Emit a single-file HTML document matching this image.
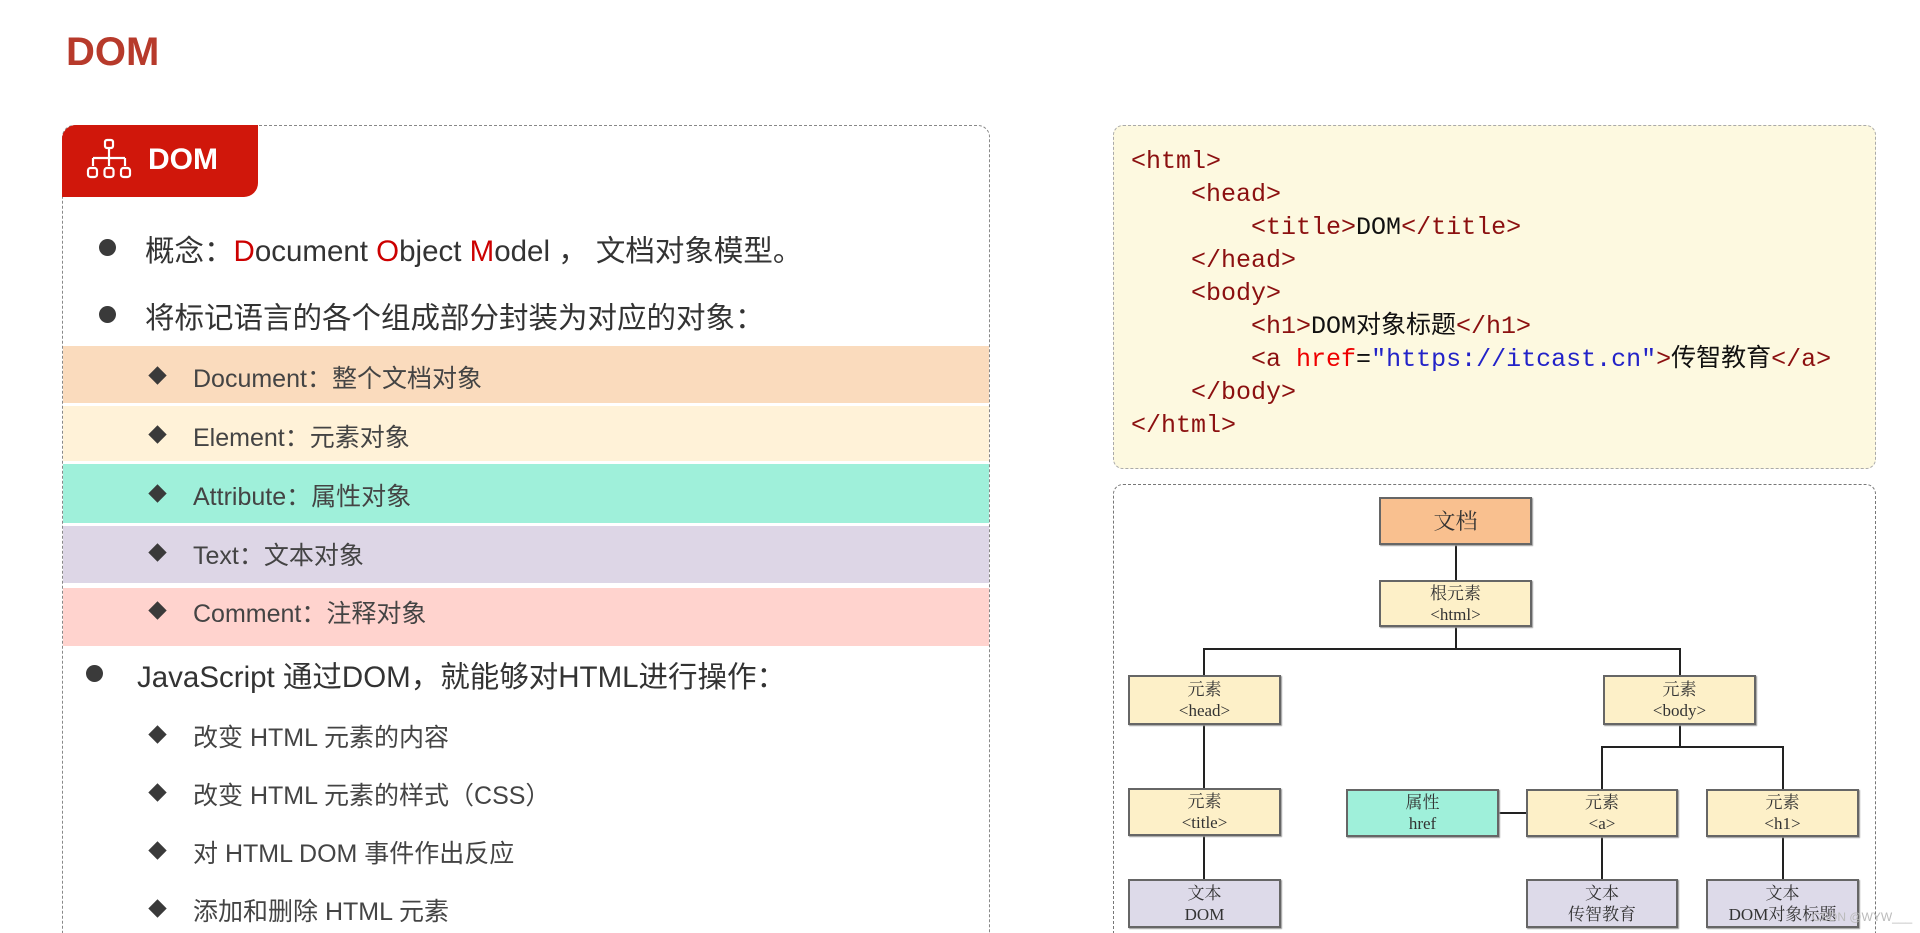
<!DOCTYPE html>
<html style="width:1920px;height:933px;overflow:hidden"><head><meta charset="utf-8"><style>
*{margin:0;padding:0;box-sizing:border-box}
body{width:1920px;height:933px;background:#fff;position:relative;overflow:hidden;font-family:"Liberation Sans","Noto Sans CJK SC",sans-serif;color:#333}
.a{position:absolute}
.t{font-size:29.5px;white-space:nowrap;color:#333}
.s{font-size:25px;white-space:nowrap;color:#444}
.dot{width:17px;height:17px;border-radius:50%;background:#3a3a3a}
.dia{width:13px;height:13px;background:#3a3a3a;transform:rotate(45deg)}
.row{left:63px;width:926px}
.code{font-family:"Liberation Mono","Noto Sans CJK SC",monospace;font-size:25px;color:#8b1010;white-space:pre;line-height:33px}
.n{position:absolute;border:2px solid #666;text-align:center;font-family:"Liberation Serif","Noto Serif CJK SC",serif;font-size:17px;line-height:21px;color:#333;display:flex;flex-direction:column;justify-content:center;box-shadow:1px 1px 1px #999}
.y{background:#fdf0c8}.p{background:#dddae9}.g{background:#9ff0da}
.l{position:absolute;background:#222}
</style></head><body>
<div class="a" style="left:66px;top:30px;font-size:40px;font-weight:bold;color:#b73a2b">DOM</div>
<div class="a" style="left:62px;top:125px;width:928px;height:820px;border:1.5px dashed #888;border-bottom:none;border-radius:12px 12px 0 0"></div>
<div class="a" style="left:62px;top:125px;width:196px;height:72px;background:#d0170b;border-radius:14px 0 14px 0"></div>
<svg class="a" style="left:84px;top:138px" width="50" height="50" viewBox="0 0 50 50" fill="none" stroke="#fff" stroke-width="2.2"><rect x="21" y="2" width="8" height="8" rx="2"/><path d="M25 10v10M9 20h32M9 20v8M25 20v8M41 20v8"/><rect x="4" y="30" width="9" height="9" rx="2.5"/><rect x="20.5" y="30" width="9" height="9" rx="2.5"/><rect x="37" y="30" width="9" height="9" rx="2.5"/></svg>
<div class="a" style="left:148px;top:143px;font-size:30px;font-weight:bold;color:#fff">DOM</div>

<div class="a dot" style="left:99px;top:239px"></div>
<div class="a t" style="left:145px;top:228px">概念：<span style="color:#c00">D</span>ocument <span style="color:#c00">O</span>bject <span style="color:#c00">M</span>odel ， 文档对象模型。</div>
<div class="a dot" style="left:99px;top:306px"></div>
<div class="a t" style="left:145px;top:295px">将标记语言的各个组成部分封装为对应的对象：</div>

<div class="a row" style="top:346px;height:57px;background:#fadbbd"></div>
<div class="a row" style="top:406px;height:55px;background:#fff2d8"></div>
<div class="a row" style="top:464px;height:59px;background:#9ff0da"></div>
<div class="a row" style="top:526px;height:57px;background:#ddd6e6"></div>
<div class="a row" style="top:588px;height:58px;background:#ffd3ce"></div>
<div class="a dia" style="left:151px;top:369px"></div><div class="a s" style="left:193px;top:359px">Document：整个文档对象</div>
<div class="a dia" style="left:151px;top:428px"></div><div class="a s" style="left:193px;top:418px">Element：元素对象</div>
<div class="a dia" style="left:151px;top:487px"></div><div class="a s" style="left:193px;top:477px">Attribute：属性对象</div>
<div class="a dia" style="left:151px;top:546px"></div><div class="a s" style="left:193px;top:536px">Text：文本对象</div>
<div class="a dia" style="left:151px;top:604px"></div><div class="a s" style="left:193px;top:594px">Comment：注释对象</div>

<div class="a dot" style="left:86px;top:665px"></div>
<div class="a t" style="left:137px;top:654px">JavaScript 通过DOM，就能够对HTML进行操作：</div>
<div class="a dia" style="left:151px;top:728px"></div><div class="a s" style="left:193px;top:718px">改变 HTML 元素的内容</div>
<div class="a dia" style="left:151px;top:786px"></div><div class="a s" style="left:193px;top:776px">改变 HTML 元素的样式（CSS）</div>
<div class="a dia" style="left:151px;top:844px"></div><div class="a s" style="left:193px;top:834px">对 HTML DOM 事件作出反应</div>
<div class="a dia" style="left:151px;top:902px"></div><div class="a s" style="left:193px;top:892px">添加和删除 HTML 元素</div>

<div class="a" style="left:1113px;top:125px;width:763px;height:344px;background:#fdf9e0;border:1.5px dashed #aaa;border-radius:10px"></div>
<div class="a code" style="left:1131px;top:145px">&lt;html&gt;
    &lt;head&gt;
        &lt;title&gt;<span style="color:#111">DOM</span>&lt;/title&gt;
    &lt;/head&gt;
    &lt;body&gt;
        &lt;h1&gt;<span style="color:#111">DOM对象标题</span>&lt;/h1&gt;
        &lt;a <span style="color:#e00">href</span><span style="color:#111">=</span><span style="color:#2323c8">"https://itcast.cn"</span>&gt;<span style="color:#111">传智教育</span>&lt;/a&gt;
    &lt;/body&gt;
&lt;/html&gt;</div>

<div class="a" style="left:1113px;top:484px;width:763px;height:460px;border:1.5px dashed #777;border-bottom:none;border-radius:10px 10px 0 0"></div>
<div class="l" style="left:1455px;top:545px;width:2px;height:35px"></div>
<div class="l" style="left:1455px;top:627px;width:2px;height:22px"></div>
<div class="l" style="left:1203px;top:648px;width:478px;height:2px"></div>
<div class="l" style="left:1203px;top:648px;width:2px;height:27px"></div>
<div class="l" style="left:1679px;top:648px;width:2px;height:27px"></div>
<div class="l" style="left:1203px;top:725px;width:2px;height:63px"></div>
<div class="l" style="left:1203px;top:836px;width:2px;height:43px"></div>
<div class="l" style="left:1679px;top:725px;width:2px;height:22px"></div>
<div class="l" style="left:1601px;top:746px;width:183px;height:2px"></div>
<div class="l" style="left:1601px;top:746px;width:2px;height:43px"></div>
<div class="l" style="left:1782px;top:746px;width:2px;height:43px"></div>
<div class="l" style="left:1499px;top:812px;width:27px;height:2px"></div>
<div class="l" style="left:1601px;top:837px;width:2px;height:42px"></div>
<div class="l" style="left:1782px;top:837px;width:2px;height:42px"></div>

<div class="n" style="left:1379px;top:497px;width:153px;height:48px;background:#f9c08f;font-size:22px">文档</div>
<div class="n y" style="left:1379px;top:580px;width:153px;height:47px"><span>根元素</span><span>&lt;html&gt;</span></div>
<div class="n y" style="left:1128px;top:675px;width:153px;height:50px"><span>元素</span><span>&lt;head&gt;</span></div>
<div class="n y" style="left:1603px;top:675px;width:153px;height:50px"><span>元素</span><span>&lt;body&gt;</span></div>
<div class="n y" style="left:1128px;top:788px;width:153px;height:48px"><span>元素</span><span>&lt;title&gt;</span></div>
<div class="n g" style="left:1346px;top:789px;width:153px;height:48px"><span>属性</span><span>href</span></div>
<div class="n y" style="left:1526px;top:789px;width:152px;height:48px"><span>元素</span><span>&lt;a&gt;</span></div>
<div class="n y" style="left:1706px;top:789px;width:153px;height:48px"><span>元素</span><span>&lt;h1&gt;</span></div>
<div class="n p" style="left:1128px;top:879px;width:153px;height:49px"><span>文本</span><span>DOM</span></div>
<div class="n p" style="left:1526px;top:879px;width:152px;height:49px"><span>文本</span><span>传智教育</span></div>
<div class="n p" style="left:1706px;top:879px;width:153px;height:49px"><span>文本</span><span>DOM对象标题</span></div>
<div class="a" style="left:1812px;top:910px;font-size:12px;color:#bbb">CSDN @WYW___</div>
</body></html>
